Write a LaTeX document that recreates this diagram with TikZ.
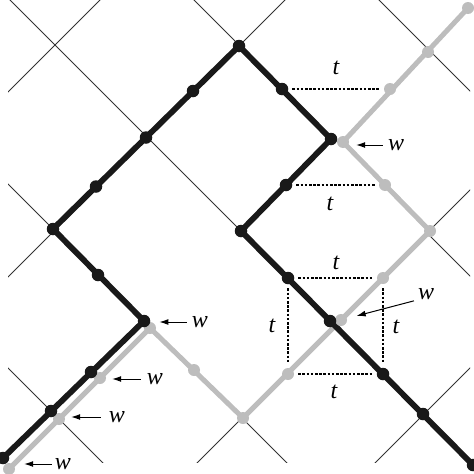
\documentclass[tikz,border=0pt]{standalone}
\usepackage{fontspec}
\setmainfont{Liberation Serif}
\usetikzlibrary{arrows.meta}
\begin{document}
\begin{tikzpicture}[x=1pt,y=-1pt,
  gridline/.style={line width=0.75pt, black!80},
  blackpath/.style={line width=5.8pt, black!90},
  graypath/.style={line width=5pt, black!26},
  bdot/.style={circle, fill=black!90, inner sep=0pt, minimum size=12.5pt},
  gdot/.style={circle, fill=black!26, inner sep=0pt, minimum size=12pt},
  dashln/.style={line width=1.2pt, dash pattern=on 2.6pt off 1.6pt, shorten <=4pt, shorten >=4pt},
  warrow/.style={line width=1pt, -{Latex[length=9pt,width=6pt]}},
  lab/.style={font=\fontsize{24}{24}\selectfont\itshape, inner sep=0pt}
]
\useasboundingbox (0,0) rectangle (474,474);
\clip (0,0) rectangle (474,474);

% thin diagonal grid
\begin{scope}
\clip (8,0) rectangle (470,462);
\draw[gridline] (-5,-15) -- (475,465);
\draw[gridline] (187,-7) -- (333,139);
\draw[gridline] (427,233) -- (577,383);
\draw[gridline] (369.5,-9.5) -- (489.5,110.5);
\draw[gridline] (-8,168) -- (342,518);
\draw[gridline] (-15,345) -- (130,490);
\draw[gridline] (-10,110) -- (110,-10);
\draw[gridline] (-12.5,297.5) -- (297.5,-12.5);
\draw[gridline] (180,480) -- (495,165);
\draw[gridline] (349,489) -- (489,349);
\end{scope}

% path vertices
\coordinate (B0) at (3,458);
\coordinate (B1) at (144,321);
\coordinate (B2) at (53,229);
\coordinate (B3) at (239,46);
\coordinate (B4) at (331,139);
\coordinate (B5) at (241,231);
\coordinate (B6) at (473,465);
\coordinate (G0) at (468,8);
\coordinate (G1) at (343,142);
\coordinate (G2) at (430,231);
\coordinate (G3) at (243,418);
\coordinate (G4) at (150,328);
\coordinate (G5) at (9,469);

% paths
\draw[graypath] (G0) -- (G1) -- (G2) -- (G3) -- (G4) -- (G5);
\draw[blackpath] (B0) -- (B1) -- (B2) -- (B3) -- (B4) -- (B5) -- (B6);

% gray dots
\node[gdot] (g0) at (G0) {};
\node[gdot] (g1) at (428,52) {};
\node[gdot] (g2) at (390,89) {};
\node[gdot] (g3) at (G1) {};
\node[gdot] (g4) at (385,185) {};
\node[gdot] (g5) at (G2) {};
\node[gdot] (g6) at (383,278) {};
\node[gdot] (g7) at (341,320) {};
\node[gdot] (g8) at (288,374) {};
\node[gdot] (g9) at (G3) {};
\node[gdot] (g10) at (194,370) {};
\node[gdot] (g11) at (G4) {};
\node[gdot] (g12) at (100,378) {};
\node[gdot] (g13) at (59,419) {};
\node[gdot] (g14) at (G5) {};

% black dots
\node[bdot] (b0) at (B0) {};
\node[bdot] (b1) at (51,411) {};
\node[bdot] (b2) at (91,372) {};
\node[bdot] (b3) at (B1) {};
\node[bdot] (b4) at (98,275) {};
\node[bdot] (b5) at (B2) {};
\node[bdot] (b6) at (96,186.5) {};
\node[bdot] (b7) at (146,137.5) {};
\node[bdot] (b8) at (193,91) {};
\node[bdot] (b9) at (B3) {};
\node[bdot] (b10) at (282,89) {};
\node[bdot] (b11) at (B4) {};
\node[bdot] (b12) at (286,185) {};
\node[bdot] (b13) at (B5) {};
\node[bdot] (b14) at (288,278) {};
\node[bdot] (b15) at (330,321) {};
\node[bdot] (b16) at (383,374) {};
\node[bdot] (b17) at (423,414) {};
\node[bdot] (b18) at (B6) {};

% dashed t-lines
\draw[dashln] (b10) -- (g2);
\draw[dashln] (b12) -- (g4);
\draw[dashln] (b14) -- (g6);
\draw[dashln] (g6) -- (b16);
\draw[dashln] (g8) -- (b16);
\draw[dashln] (b14) -- (g8);

% t labels
\node[lab] (t1) at (336,68) {t};
\node[lab] (t2) at (330,204) {t};
\node[lab] (t3) at (336,263) {t};
\node[lab] (t4) at (334,392) {t};
\node[lab] (t5) at (272,326) {t};
\node[lab] (t6) at (396,327) {t};

% w labels and arrows
\node[lab] (w1) at (396,145) {w};
\node[lab] (w2) at (200,322) {w};
\node[lab] (w3) at (155,379) {w};
\node[lab] (w4) at (117,417) {w};
\node[lab] (w5) at (63,464) {w};
\node[lab] (w6) at (426,294) {w};

\draw[warrow, shorten <=5pt, shorten >=7pt] (w1.west) -- (w1.west -| g3.east);
\draw[warrow, shorten <=5pt, shorten >=9pt] (w2.west) -- (w2.west -| b3.east);
\draw[warrow, shorten <=6pt, shorten >=6pt] (w3.west) -- (w3.west -| g12.east);
\draw[warrow, shorten <=8pt, shorten >=6pt] (w4.west) -- (w4.west -| g13.east);
\draw[warrow, shorten <=3pt, shorten >=9pt] (w5.west) -- (w5.west -| g14.east);
\draw[warrow, shorten <=4pt, shorten >=10pt] (w6.south west) -- (g7);
\end{tikzpicture}
\end{document}
